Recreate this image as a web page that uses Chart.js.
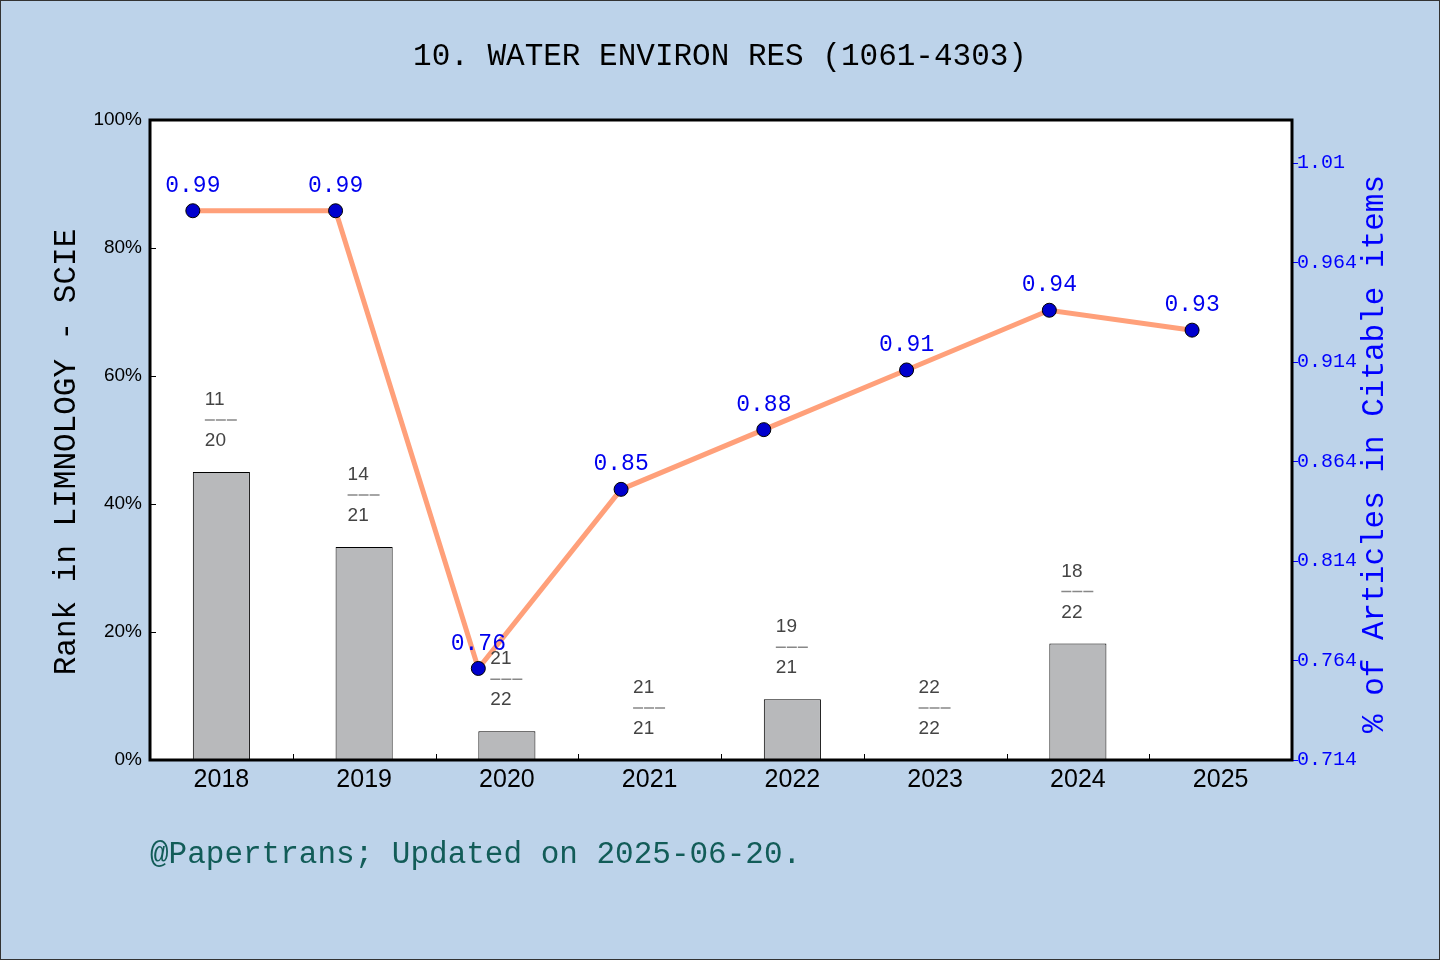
<!DOCTYPE html>
<html>
<head>
<meta charset="utf-8">
<title>WATER ENVIRON RES</title>
<script src="https://cdn.jsdelivr.net/npm/chart.js@4/dist/chart.umd.min.js"></script>
<style>
  html, body { margin: 0; padding: 0; background: #BDD3EA; }
  #wrap { width: 1440px; height: 960px; }
</style>
</head>
<body>
<div id="wrap"><canvas id="rankChart" width="1440" height="960"></canvas></div>
<script>
// data
const years = ['2018', '2019', '2020', '2021', '2022', '2023', '2024', '2025'];
const rankPct = [45.0, 33.3, 4.5, 0, 9.5, 0, 18.2, null];      // bar heights (%)
const rankNum = [11, 14, 21, 21, 19, 22, 18, null];            // rank in category
const rankTotal = [20, 21, 22, 21, 21, 22, 22, null];          // journals in category
const citablePct = [0.99, 0.99, 0.76, 0.85, 0.88, 0.91, 0.94, 0.93];
const leftTicks = [0, 20, 40, 60, 80, 100];
const rightTicks = [0.714, 0.764, 0.814, 0.864, 0.914, 0.964, 1.014];

const MONO = '"Liberation Mono", "DejaVu Sans Mono", monospace';
const SANS = '"Liberation Sans", Arial, sans-serif';
const POINT_SHIFT = -0.2;   // points sit at the left edge of the bars

// Background, plot box, titles, labels
const decorPlugin = {
    id: 'decor',
    beforeDraw(chart) {
        const ctx = chart.ctx;
        const a = chart.chartArea;
        ctx.save();
        ctx.fillStyle = '#BDD3EA';
        ctx.fillRect(0, 0, chart.width, chart.height);
        ctx.strokeStyle = '#333';
        ctx.lineWidth = 1;
        ctx.strokeRect(0.5, 0.5, chart.width - 1, chart.height - 1);
        ctx.fillStyle = '#fff';
        ctx.fillRect(a.left, a.top, a.right - a.left, a.bottom - a.top);
        ctx.restore();
    },
    afterDatasetsDraw(chart) {
        const ctx = chart.ctx;
        const ys = chart.scales.y;
        ctx.save();

        // rank fractions above the bars
        const bars = chart.getDatasetMeta(1).data;
        ctx.font = '19px ' + SANS;
        ctx.textAlign = 'left';
        ctx.textBaseline = 'middle';
        rankNum.forEach((n, i) => {
            if (n === null) return;
            const top = ys.getPixelForValue(rankPct[i]);
            const x0 = bars[i].x - bars[i].width / 2 + 12;
            ctx.fillStyle = '#444';
            ctx.fillText(String(n), x0, top - 72);
            ctx.fillText(String(rankTotal[i]), x0, top - 31);
            ctx.strokeStyle = '#888';
            ctx.lineWidth = 1.5;
            ctx.setLineDash([10, 1]);
            ctx.beginPath();
            ctx.moveTo(x0, top - 52);
            ctx.lineTo(x0 + 32, top - 52);
            ctx.stroke();
            ctx.setLineDash([]);
        });

        // value labels over the points
        const pts = chart.getDatasetMeta(0).data;
        ctx.font = '23px ' + MONO;
        ctx.fillStyle = '#0000EE';
        ctx.textAlign = 'center';
        ctx.textBaseline = 'middle';
        pts.forEach((p, i) => {
            ctx.fillText(citablePct[i].toFixed(2), p.x, p.y - 25);
        });
        ctx.restore();
    },
    afterDraw(chart) {
        const ctx = chart.ctx;
        const a = chart.chartArea;
        const xs = chart.scales.x;
        const ys = chart.scales.y;
        const y1 = chart.scales.y1;
        ctx.save();

        // tick marks
        ctx.lineWidth = 1;
        ctx.strokeStyle = '#000';
        ctx.beginPath();
        leftTicks.forEach(v => {
            const y = Math.round(ys.getPixelForValue(v)) + 0.5;
            ctx.moveTo(a.left, y);
            ctx.lineTo(a.left + 6, y);
        });
        for (let i = 1; i < years.length; i++) {
            const x = Math.round(xs.getPixelForValue(i - 0.5)) + 0.5;
            ctx.moveTo(x, a.bottom);
            ctx.lineTo(x, a.bottom - 6);
        }
        ctx.stroke();
        ctx.strokeStyle = '#0000FF';
        ctx.beginPath();
        rightTicks.forEach(v => {
            const y = Math.round(y1.getPixelForValue(v)) + 0.5;
            ctx.moveTo(a.right, y);
            ctx.lineTo(a.right + 6, y);
        });
        ctx.stroke();

        // plot frame
        ctx.strokeStyle = '#000';
        ctx.lineWidth = 3;
        ctx.strokeRect(a.left, a.top, a.right - a.left, a.bottom - a.top);

        // chart title
        ctx.font = '31px ' + MONO;
        ctx.fillStyle = '#000';
        ctx.textAlign = 'center';
        ctx.textBaseline = 'middle';
        ctx.fillText('10. WATER ENVIRON RES (1061-4303)', 720, 57);

        // axis titles
        ctx.save();
        ctx.translate(67, 452);
        ctx.rotate(-Math.PI / 2);
        ctx.fillText('Rank in LIMNOLOGY - SCIE', 0, 0);
        ctx.restore();
        ctx.save();
        ctx.translate(1375, 454);
        ctx.rotate(-Math.PI / 2);
        ctx.fillStyle = '#0000FF';
        ctx.fillText('% of Articles in Citable items', 0, 0);
        ctx.restore();

        // footer
        ctx.textAlign = 'left';
        ctx.fillStyle = '#125C58';
        ctx.fillText('@Papertrans; Updated on 2025-06-20.', 150, 855);
        ctx.restore();
    }
};

const ctx = document.getElementById('rankChart').getContext('2d');
const rankChart = new Chart(ctx, {
    data: {
        labels: years,
        datasets: [{
            type: 'line',
            label: '% of Articles in Citable items',
            data: citablePct.map((v, i) => ({ x: i + POINT_SHIFT, y: v })),
            xAxisID: 'xl',
            yAxisID: 'y1',
            borderColor: '#FFA07A',
            borderWidth: 5,
            tension: 0,
            pointRadius: 7,
            pointBackgroundColor: '#0000CD',
            pointBorderColor: '#000',
            pointBorderWidth: 1,
            order: 0
        }, {
            type: 'bar',
            label: 'Rank',
            data: rankPct,
            xAxisID: 'x',
            yAxisID: 'y',
            backgroundColor: '#B8B9BB',
            borderColor: '#000',
            borderWidth: 1,
            grouped: false,
            barPercentage: 0.4,
            categoryPercentage: 1,
            order: 1
        }]
    },
    options: {
        responsive: false,
        animation: false,
        devicePixelRatio: 1,
        layout: { padding: { top: 120, bottom: 160, left: 0, right: 0 } },
        plugins: {
            legend: { display: false },
            tooltip: { enabled: false }
        },
        scales: {
            x: {
                type: 'category',
                offset: true,
                grid: { display: false },
                border: { display: false },
                ticks: { color: '#000', font: { family: SANS, size: 25 }, padding: -3 },
                afterFit(scale) { scale.height = 40; }
            },
            xl: {
                type: 'linear',
                display: false,
                min: -0.5,
                max: years.length - 0.5
            },
            y: {
                position: 'left',
                min: 0,
                max: 100,
                grid: { display: false },
                border: { display: false },
                afterBuildTicks(scale) { scale.ticks = leftTicks.map(v => ({ value: v })); },
                ticks: {
                    color: '#000',
                    font: { family: SANS, size: 19 },
                    padding: 0,
                    callback: v => v + '%'
                },
                afterFit(scale) { scale.width = 150; }
            },
            y1: {
                position: 'right',
                min: 0.714,
                max: 1.0356,
                grid: { display: false },
                border: { display: false },
                afterBuildTicks(scale) { scale.ticks = rightTicks.map(v => ({ value: v })); },
                ticks: {
                    color: '#0000FF',
                    font: { family: MONO, size: 20 },
                    padding: -3,
                    callback: v => Number(v).toPrecision(3)
                },
                afterFit(scale) { scale.width = 148; }
            }
        }
    },
    plugins: [decorPlugin]
});
</script>
</body>
</html>
